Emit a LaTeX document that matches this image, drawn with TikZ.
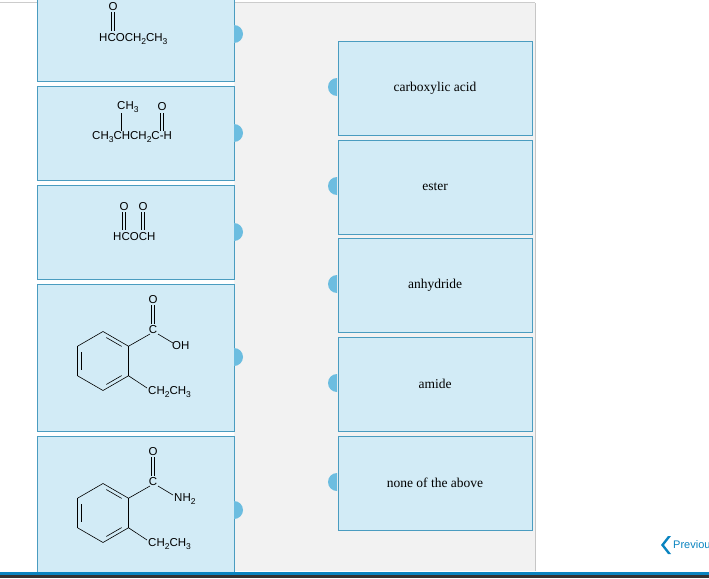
\documentclass[tikz,border=0pt]{standalone}
\usepackage{fontspec}
\usetikzlibrary{calc}
\setmainfont{Liberation Serif}
\newfontfamily\chemf{Liberation Sans}
\definecolor{boxfill}{HTML}{D2EBF6}
\definecolor{boxline}{HTML}{4A9CC0}
\definecolor{dot}{HTML}{6CBDE0}
\definecolor{panel}{HTML}{F2F2F2}
\definecolor{navblue}{HTML}{0A84C0}
\newcommand{\cs}[1]{\raisebox{-0.35ex}{\fontsize{8.5}{9}\selectfont #1}}
\begin{document}
\begin{tikzpicture}[x=1pt,y=-1pt,
  card/.style={draw=boxline,fill=boxfill,line width=0.8pt},
  chem/.style={font=\chemf\fontsize{11.5}{12}\selectfont,inner sep=0pt},
  lbl/.style={font=\fontsize{13.5}{15}\selectfont},
  bond/.style={line width=0.6pt}]
\useasboundingbox (0,0) rectangle (709,578);
\fill[white] (0,0) rectangle (709,578);
\fill[panel] (234,3) rectangle (535,571);
\draw[gray!40] (0,2.5) -- (535,2.5);
\draw[gray!45] (535,3) -- (535,571);
% left cards
\draw[card] (37,-2) rectangle (234,81);
\draw[card] (37,86) rectangle (234,180);
\draw[card] (37,185) rectangle (234,279);
\draw[card] (37,284) rectangle (234,431);
\draw[card] (37,436) rectangle (234,575);
\foreach \y in {34,133,232,357,510}
  \fill[dot] (234,\y+9) arc[start angle=90,end angle=-90,radius=9] -- cycle;
% right cards
\foreach \t/\y [count=\i] in {carboxylic acid/41,ester/140,anhydride/238,amide/337,none of the above/436}{
  \draw[card] (338,\y) rectangle (532,\y+94);
  \node[lbl] (r\i) at (435,\y+47) {\t};
  \fill[dot] (337,\y+55) arc[start angle=90,end angle=270,radius=9] -- cycle;
}
% box1
\node[chem,anchor=west] (m1) at (99,39) {HCOCH\cs{2}CH\cs{3}};
\node[chem] (o1) at (113,7) {O};
\draw[bond] (111.5,12)--(111.5,31) (114.5,12)--(114.5,31);
% box2
\node[chem,anchor=west] (m2a) at (117,107) {CH\cs{3}};
\node[chem] (o2) at (162,107) {O};
\node[chem,anchor=west] (m2) at (92,137) {CH\cs{3}CHCH\cs{2}C-H};
\draw[bond] (121,113)--(121,131);
\draw[bond] (160.5,113)--(160.5,131) (163.5,113)--(163.5,131);
% box3
\node[chem] (o3a) at (124,207) {O};
\node[chem] (o3b) at (143,207) {O};
\node[chem,anchor=west] (m3) at (113,237) {HCOCH};
\draw[bond] (122.5,212)--(122.5,230) (125.5,212)--(125.5,230);
\draw[bond] (141.5,212)--(141.5,230) (144.5,212)--(144.5,230);
% rings
\foreach \cy in {361,513}{
  \begin{scope}[shift={(103,\cy)}]
    \coordinate (T) at (0,-29.5); \coordinate (TR) at (25.5,-14.75);
    \coordinate (BR) at (25.5,14.75); \coordinate (B) at (0,29.5);
    \coordinate (BL) at (-25.5,14.75); \coordinate (TL) at (-25.5,-14.75);
    \draw[bond] (T)--(TR)--(BR)--(B)--(BL)--(TL)--cycle;
    \draw[bond] ($(0,0)!0.86!($(T)!0.15!(TR)$)$)--($(0,0)!0.86!($(T)!0.85!(TR)$)$);
    \draw[bond] ($(0,0)!0.86!($(BL)!0.15!(TL)$)$)--($(0,0)!0.86!($(BL)!0.85!(TL)$)$);
    \draw[bond] ($(0,0)!0.86!($(B)!0.15!(BR)$)$)--($(0,0)!0.86!($(B)!0.85!(BR)$)$);
    \draw[bond] (TR)--(47,-27);
    \draw[bond] (BR)--(44,27);
    \draw[bond] (48.5,-56)--(48.5,-37) (51.5,-56)--(51.5,-37);
    \draw[bond] (55,-27)--(70,-18);
  \end{scope}
}
\node[chem] (c4) at (153,330) {C};
\node[chem] (o4) at (153,300) {O};
\node[chem,anchor=west] (oh) at (172,346) {OH};
\node[chem,anchor=west] (e4) at (148,392) {CH\cs{2}CH\cs{3}};
\node[chem] (c5) at (153,482) {C};
\node[chem] (o5) at (153,452) {O};
\node[chem,anchor=west] (nh) at (174,499) {NH\cs{2}};
\node[chem,anchor=west] (e5) at (148,544) {CH\cs{2}CH\cs{3}};
% bottom bar
\fill[navblue] (0,572) rectangle (709,575);
\fill[black!80] (0,575) rectangle (709,578);
% previous
\fill[navblue] (671,536)--(664,545)--(671,554)--(668,554)--(661,545)--(668,536)--cycle;
\node[font=\chemf\fontsize{11}{12}\selectfont,text=navblue,anchor=west,inner sep=0pt] (prev) at (673,545) {Previous};
\end{tikzpicture}
\end{document}
